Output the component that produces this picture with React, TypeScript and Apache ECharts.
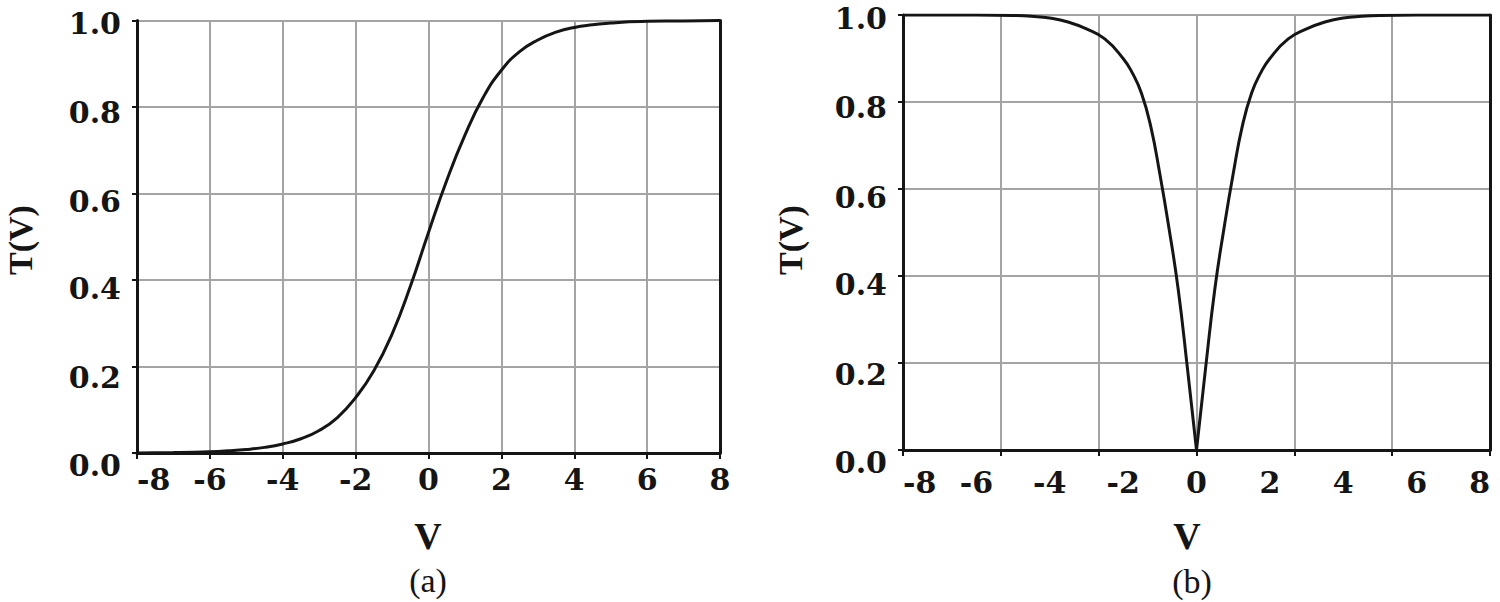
import React, { useEffect, useRef } from "react";
import * as echarts from "echarts";

// Panel (a): transmission vs V (sigmoid)
const vA = [-8, -7, -6, -5.5, -5, -4.5, -4, -3.5, -3, -2.5, -2, -1.5, -1, -0.5, 0, 0.5, 1, 1.5, 2, 2.5, 3, 3.5, 4, 4.5, 5, 5.5, 6, 7, 8];
const tA = [0.0, 0.001, 0.003, 0.005, 0.008, 0.013, 0.021, 0.033, 0.052, 0.082, 0.128, 0.19, 0.275, 0.385, 0.51, 0.63, 0.735, 0.822, 0.885, 0.928, 0.955, 0.973, 0.984, 0.99, 0.994, 0.997, 0.998, 0.999, 1.0];

// Panel (b): transmission vs V (dip at V = 0)
const vB = [-8, -7, -6, -5, -4.5, -4, -3.5, -3, -2.5, -2, -1.75, -1.5, -1.25, -1, -0.75, -0.5, -0.25, 0, 0.25, 0.5, 0.75, 1, 1.25, 1.5, 1.75, 2, 2.5, 3, 3.5, 4, 4.5, 5, 6, 7, 8];
const tB = [1, 1, 1, 0.999, 0.997, 0.993, 0.984, 0.968, 0.945, 0.9, 0.867, 0.82, 0.745, 0.635, 0.51, 0.37, 0.19, 0, 0.19, 0.37, 0.51, 0.635, 0.745, 0.82, 0.867, 0.9, 0.945, 0.968, 0.984, 0.993, 0.997, 0.999, 1, 1, 1];

const yTicks = [0, 0.2, 0.4, 0.6, 0.8, 1.0];
const xLabelStep = 2;
const xGridStepB = 16 / 6;

const yName = "T(V)";
const xName = "V";
const captions = ["(a)", "(b)"];

const BLACK = "#151515";
const GRIDC = "#a4a4a4";
const LABEL_FONT = "DejaVu Serif";
const NAME_FONT = "Liberation Serif";

// downward shift (px) of each y tick label, index = tick / 0.2
const yLabelDrop = [12, 11, 8, 8, 5, 3];

export default function App() {
  const ref = useRef<HTMLDivElement>(null);
  useEffect(() => {
    document.body.style.margin = "0";
    const chart = echarts.init(ref.current!, null, { renderer: "svg" });
    const centerIdx = vB.indexOf(0);
    const pairs = (xs: number[], ys: number[]) => xs.map((x, i) => [x, ys[i]]);
    const dataB = pairs(vB, tB);

    const rich: Record<string, any> = {};
    yLabelDrop.forEach((d, i) => {
      rich["l" + i] = {
        fontFamily: LABEL_FONT,
        fontWeight: "bold",
        fontSize: 30,
        color: BLACK,
        lineHeight: Math.max(2, d * 2),
      };
    });

    const yAxisMain = (gi: number) => ({
      gridIndex: gi,
      type: "value",
      min: yTicks[0],
      max: yTicks[yTicks.length - 1],
      interval: 0.2,
      axisLine: { show: true, onZero: false, lineStyle: { color: BLACK, width: 3 } },
      axisTick: { show: true, length: 5, lineStyle: { color: BLACK, width: 2 } },
      axisLabel: {
        formatter: (v: number) => `{l${Math.round(v * 5)}|${v.toFixed(1)}}`,
        rich,
        fontFamily: LABEL_FONT,
        fontWeight: "bold",
        fontSize: 30,
        color: BLACK,
        margin: 16,
        verticalAlign: "top",
      },
      splitLine: { show: true, lineStyle: { color: GRIDC, width: 2 } },
    });
    const yAxisRight = (gi: number) => ({
      gridIndex: gi,
      type: "value",
      position: "right",
      min: 0,
      max: 1,
      interval: 0.2,
      axisLine: { show: true, onZero: false, lineStyle: { color: BLACK, width: 3 } },
      axisTick: { show: false },
      axisLabel: { show: false },
      splitLine: { show: false },
    });
    const xLabelStyle = (margin: number) => ({
      fontFamily: LABEL_FONT,
      fontWeight: "bold",
      fontSize: 30,
      color: BLACK,
      margin,
      showMinLabel: true,
      showMaxLabel: true,
    });
    const lineSeries = (xi: number, yi: number, data: number[][]) => ({
      type: "line",
      xAxisIndex: xi,
      yAxisIndex: yi,
      data,
      smooth: true,
      showSymbol: false,
      lineStyle: { color: BLACK, width: 3 },
      z: 5,
    });
    const textEl = (x: number, y: number, text: string, size: number, bold: boolean, rot = 0) => ({
      type: "text",
      x,
      y,
      rotation: rot,
      style: {
        text,
        fontFamily: NAME_FONT,
        fontWeight: bold ? "bold" : "normal",
        fontSize: size,
        fill: BLACK,
        align: "center",
        verticalAlign: "middle",
      },
    });

    chart.setOption({
      animation: false,
      backgroundColor: "#ffffff",
      grid: [
        { left: 137, top: 20.5, width: 583, height: 432.5 },
        { left: 903, top: 15, width: 587, height: 435 },
      ],
      xAxis: [
        {
          gridIndex: 0,
          type: "value",
          min: -8,
          max: 8,
          interval: xLabelStep,
          axisLine: { show: true, onZero: false, lineStyle: { color: BLACK, width: 3 } },
          axisTick: { show: true, length: 6, lineStyle: { color: BLACK, width: 2 } },
          axisLabel: { ...xLabelStyle(11), alignMinLabel: "left" },
          splitLine: { show: true, lineStyle: { color: GRIDC, width: 2 } },
        },
        {
          gridIndex: 1,
          type: "value",
          min: -8,
          max: 8,
          interval: xGridStepB,
          axisLine: { show: true, onZero: false, lineStyle: { color: BLACK, width: 3 } },
          axisTick: { show: true, length: 6, lineStyle: { color: BLACK, width: 2 } },
          axisLabel: { show: false },
          splitLine: { show: true, lineStyle: { color: GRIDC, width: 2 } },
        },
        {
          gridIndex: 1,
          type: "value",
          position: "bottom",
          min: -8,
          max: 8,
          interval: xLabelStep,
          axisLine: { show: false, onZero: false },
          axisTick: { show: false },
          axisLabel: { ...xLabelStyle(17), alignMinLabel: "left", alignMaxLabel: "right" },
          splitLine: { show: false },
        },
      ],
      yAxis: [yAxisMain(0), yAxisRight(0), yAxisMain(1), yAxisRight(1)],
      series: [
        lineSeries(0, 0, pairs(vA, tA)),
        lineSeries(1, 2, dataB.slice(0, centerIdx + 1)),
        lineSeries(1, 2, dataB.slice(centerIdx)),
      ],
      graphic: [
        textEl(20, 240, yName, 34, true, Math.PI / 2),
        textEl(790, 240, yName, 34, true, Math.PI / 2),
        textEl(428, 536, xName, 38, true),
        textEl(1187, 536, xName, 38, true),
        textEl(428, 580, captions[0], 34, false),
        textEl(1192, 581, captions[1], 34, false),
      ],
    });
    return () => chart.dispose();
  }, []);
  return <div ref={ref} style={{ width: 1500, height: 602 }} />;
}
